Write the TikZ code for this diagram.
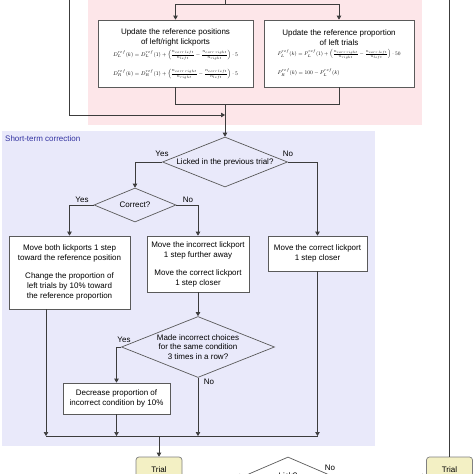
\documentclass[tikz,border=0pt]{standalone}
\usepackage{amsmath}
\usepackage{fontspec}
\setmainfont{Liberation Sans}
\usetikzlibrary{shapes.geometric,arrows.meta,positioning,calc}
\definecolor{pinkbg}{RGB}{253,230,233}
\definecolor{lavbg}{RGB}{233,233,250}
\definecolor{trialfill}{RGB}{243,240,196}
\definecolor{linegray}{RGB}{60,60,60}
\definecolor{boxgray}{RGB}{90,90,90}
\definecolor{stcblue}{RGB}{50,50,160}
\newcommand{\eqfit}[2]{\resizebox{#1pt}{!}{$#2$}}

\begin{document}
\begin{tikzpicture}[x=1pt,y=-1pt,
    font=\fontsize{8}{10}\selectfont,
    flow/.style={draw=linegray, line width=0.7pt, -{Triangle[length=4pt,width=4.5pt]}},
    plain/.style={draw=linegray, line width=0.7pt},
    stepbox/.style={draw=boxgray, line width=0.7pt, fill=white, align=center, inner sep=2pt},
    decision/.style={diamond, draw=boxgray, line width=0.7pt, inner sep=0pt},
    trialbox/.style={draw=gray, line width=0.7pt, fill=trialfill, rounded corners=3pt,
        minimum width=46pt, minimum height=38pt, text depth=12pt},
    yn/.style={font=\fontsize{8}{9}\selectfont}]
    \useasboundingbox (0,0) rectangle (474,474);
    \clip (0,0) rectangle (474,474);

    % --- Backgrounds ---
    \fill[pinkbg] (88,-5) rectangle (422,125);
    \fill[lavbg] (2,131) rectangle (375,446);
    \node[anchor=west, text=stcblue, inner sep=0pt] (stclabel) at (5,139) {Short-term correction};

    % --- Reference update ---
    \node[stepbox, minimum width=155pt, minimum height=67pt] (refpos) at (175.5,53.5)
        {Update the reference positions\\of left/right lickports\\[2pt]
         \eqfit{125}{D_L^{ref}(k) = D_L^{ref}(1) + \left(\frac{n_{corr\,left}}{n_{left}} - \frac{n_{corr\,right}}{n_{right}}\right)\cdot 5}\\[9pt]
         \eqfit{125}{D_R^{ref}(k) = D_R^{ref}(1) + \left(\frac{n_{corr\,right}}{n_{right}} - \frac{n_{corr\,left}}{n_{left}}\right)\cdot 5}};
    \node[stepbox, minimum width=150pt, minimum height=67pt] (refprop) at (339,53.5)
        {Update the reference proportion\\of left trials\\[2pt]
         \begin{tabular}{@{}l@{}}
         \eqfit{123}{P_L^{ref}(k) = P_L^{ref}(1) + \left(\frac{n_{corr\,right}}{n_{right}} - \frac{n_{corr\,left}}{n_{left}}\right)\cdot 50}\\[9pt]
         \eqfit{62}{P_R^{ref}(k) = 100 - P_L^{ref}(k)}
         \end{tabular}};

    \coordinate (topin) at (225,-5);
    \coordinate (split) at (225,4);
    \coordinate (join) at (225,104);
    \coordinate (leftin) at (69,-5);
    \coordinate (entry) at (225,115);
    \coordinate (rightin) at (449.5,-5);

    \draw[plain] (topin) -- (split);
    \draw[flow] (split) -| (refpos.north);
    \draw[flow] (split) -| (refprop.north);
    \draw[plain] (refpos.south) |- (join);
    \draw[plain] (refprop.south) |- (join);
    \draw[flow] (leftin) |- (entry);

    % --- Short-term correction ---
    \node[decision, minimum width=125pt, minimum height=50pt,
        label={center:Licked in the previous trial?}] (licked) at (225,162) {};
    \node[decision, minimum width=82pt, minimum height=34pt,
        label={center:Correct?}] (correct) at (135,205) {};
    \node[stepbox, minimum width=121pt, minimum height=73pt] (moveboth) at (69.5,272.5)
        {Move both lickports 1 step\\toward the reference position\\[8pt]
         Change the proportion of\\left trials by 10\% toward\\the reference proportion};
    \node[stepbox, minimum width=102pt, minimum height=56pt] (moveincorr) at (198,264)
        {Move the incorrect lickport\\1 step further away\\[8pt]
         Move the correct lickport\\1 step closer};
    \node[stepbox, minimum width=99pt, minimum height=35pt] (movecorr) at (317.5,253.5)
        {Move the correct lickport\\1 step closer};
    \node[decision, minimum width=153pt, minimum height=61pt,
        label={[align=center, font=\fontsize{8}{9.5}\selectfont]center:Made incorrect choices\\for the same condition\\3 times in a row?}] (streak) at (198,347) {};
    \node[stepbox, minimum width=107pt, minimum height=31pt] (decrease) at (116.5,398.5)
        {Decrease proportion of\\incorrect condition by 10\%};

    \draw[flow] (join) -- (licked.north);
    \draw[flow] (licked.west) -| (correct.north);
    \draw[flow] (licked.east) -| (movecorr.north);
    \draw[flow] (correct.west) -| (moveboth.north);
    \draw[flow] (correct.east) -| (moveincorr.north);
    \draw[flow] (moveincorr.south) -- (streak.north);
    \draw[flow] (streak.west) -| (decrease.north);

    \node[yn] (yes1) at (162,154) {Yes};
    \node[yn] (no1) at (288,154) {No};
    \node[yn] (yes2) at (82,200) {Yes};
    \node[yn] (no2) at (188,200) {No};
    \node[yn] (yes3) at (124,340) {Yes};
    \node[yn] (no3) at (209,382) {No};

    % merge back
    \coordinate (mL) at (46,436);
    \coordinate (mR) at (317.5,436);
    \coordinate (mT) at (159,436);
    \draw[flow] (moveboth.south -| mL) -- (mL);
    \draw[flow] (decrease.south) -- (decrease.south |- mL);
    \draw[flow] (streak.south) -- (streak.south |- mL);
    \draw[flow] (movecorr.south) -- (mR);
    \draw[plain] (mL) -- (mR);

    % --- Trials ---
    \node[trialbox] (trial1) at (159,476) {Trial};
    \node[decision, minimum width=88pt, minimum height=38pt,
        label={center:Lick?}] (lick) at (288,476) {};
    \node[trialbox] (trial2) at (449.5,476) {Trial};
    \node[yn] (no4) at (330,468) {No};

    \draw[flow] (mT) -- (trial1.north);
    \draw[flow] (trial1.east) -- (lick.west);
    \draw[flow] (lick.east) -- (trial2.west);
    \draw[plain] (rightin) -- (trial2.north);
\end{tikzpicture}
\end{document}
